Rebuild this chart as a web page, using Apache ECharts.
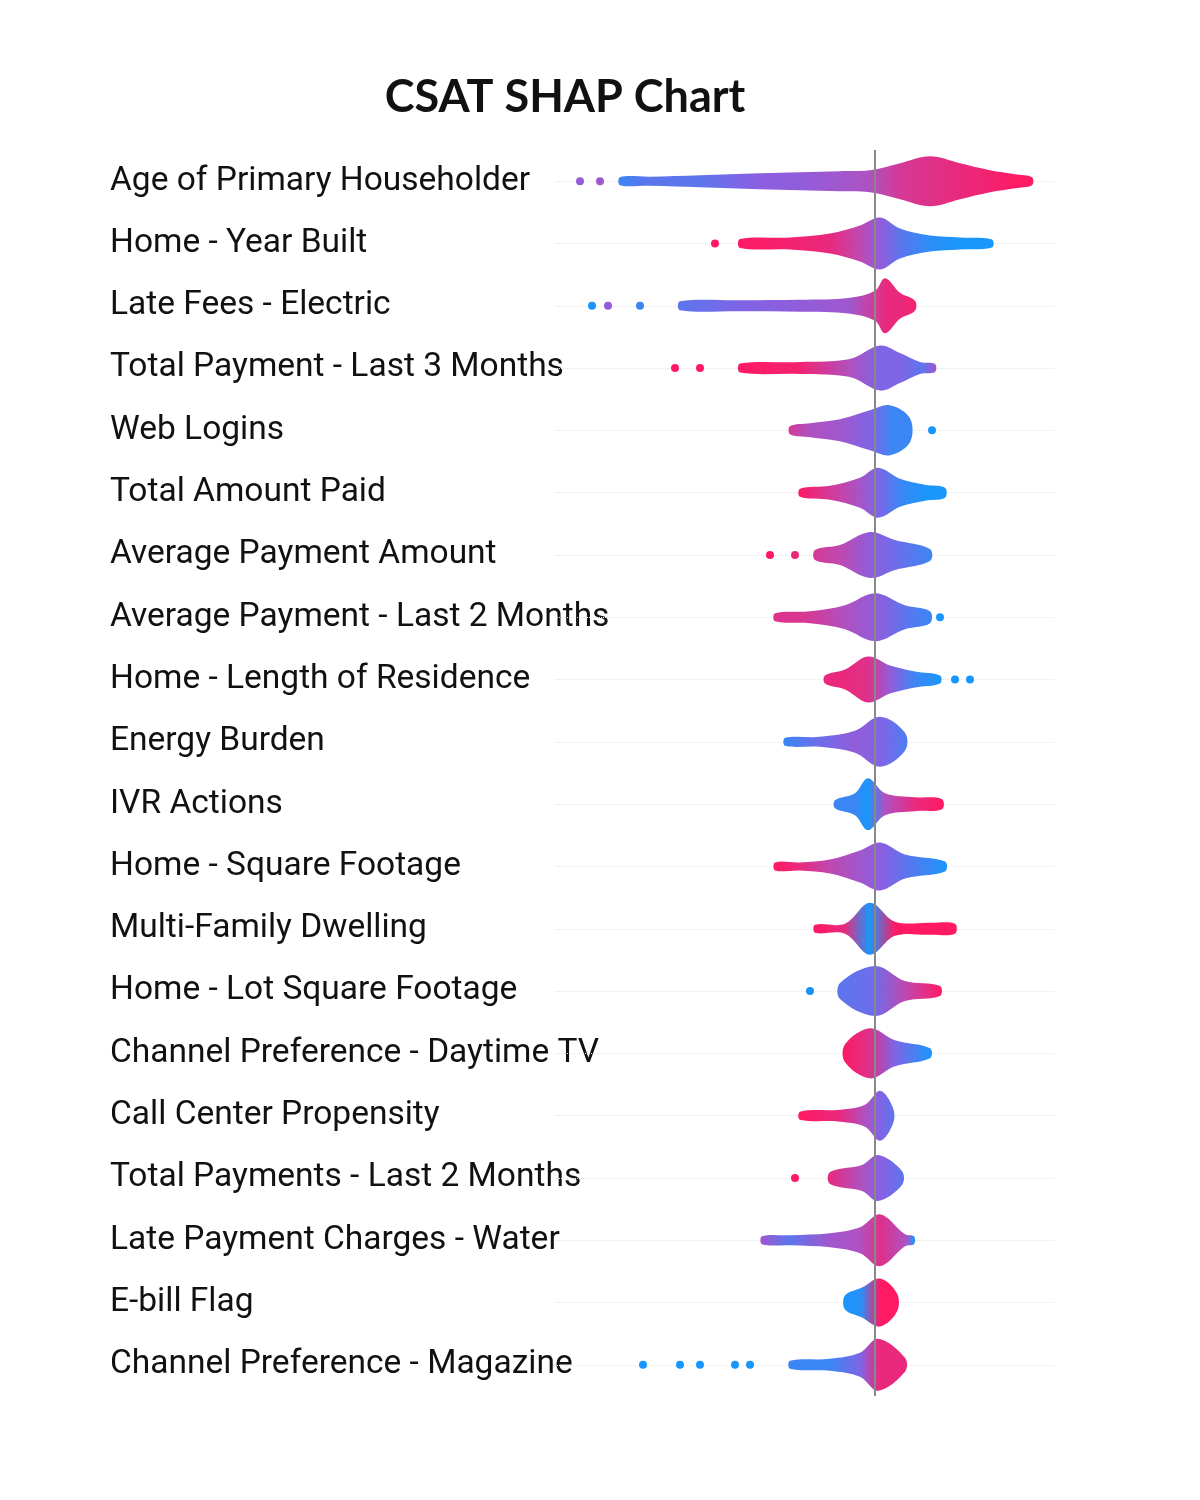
<!DOCTYPE html>
<html>
<head>
<meta charset="utf-8">
<script src="https://cdn.jsdelivr.net/npm/echarts@6/dist/echarts.min.js"></script>
<style>html,body{margin:0;background:#fff}#chart{width:1200px;height:1500px}</style>
</head>
<body>
<div id="chart"></div>
<script>
const features = [
  'Age of Primary Householder', 'Home - Year Built', 'Late Fees - Electric',
  'Total Payment - Last 3 Months', 'Web Logins', 'Total Amount Paid',
  'Average Payment Amount', 'Average Payment - Last 2 Months',
  'Home - Length of Residence', 'Energy Burden', 'IVR Actions',
  'Home - Square Footage', 'Multi-Family Dwelling', 'Home - Lot Square Footage',
  'Channel Preference - Daytime TV', 'Call Center Propensity',
  'Total Payments - Last 2 Months', 'Late Payment Charges - Water',
  'E-bill Flag', 'Channel Preference - Magazine'
]

// per feature: [shap value, spread (density), feature value 0=low..1=high]
const age = [[-2.95,7,.4],[-2.75,7,.5],[-2.55,8,.1],[-2.25,9,.2],[-1.75,12,.2],[-1.15,16,.35],[-0.75,18,.4],[-0.35,20,.5],[-0.05,22,.6],[0.25,36,.8],[0.55,50,.85],[0.85,36,.9],[1.15,22,.95],[1.4,14,1],[1.57,8,1]]
const yearBuilt = [[-1.6,7,1],[-1.35,9,1],[-0.85,12,.95],[-0.45,20,.9],[-0.15,36,.7],[0.05,52,.4],[0.25,30,.2],[0.55,16,.05],[0.85,12,0],[1.17,8,0]]
const lateFeesElec = [[-2.83,7,0],[-2.67,7,.4],[-2.35,7,.1],[-1.95,9,.2],[-1.35,11,.3],[-0.75,12,.4],[-0.25,16,.5],[0,30,.8],[0.1,55,.9],[0.25,26,.9],[0.4,10,.95]]
const totPay3m = [[-2.0,7,1],[-1.75,7,1],[-1.35,9,1],[-0.75,12,.95],[-0.25,18,.6],[0.05,45,.3],[0.25,30,.3],[0.45,12,.2],[0.6,8,.5]]
const webLogins = [[-0.85,8,.8],[-0.65,14,.6],[-0.35,22,.5],[-0.05,40,.3],[0.15,50,.1],[0.35,24,.1],[0.57,7,0]]
const totAmtPaid = [[-0.75,8,1],[-0.45,14,.8],[-0.15,30,.55],[0.03,50,.3],[0.25,28,.1],[0.5,16,0],[0.7,10,0]]
const avgPayAmt = [[-1.05,7,1],[-0.8,7,.9],[-0.6,10,.8],[-0.35,20,.7],[-0.05,46,.4],[0.2,30,.25],[0.55,12,.1]]
const avgPay2m = [[-1.0,8,.85],[-0.65,12,.8],[-0.3,24,.6],[0,48,.4],[0.3,24,.2],[0.55,12,.1],[0.65,7,0]]
const lengthRes = [[-0.5,8,.9],[-0.3,20,.9],[-0.07,46,.85],[0.15,28,.4],[0.4,16,.1],[0.65,8,0],[0.8,7,0],[0.95,7,0]]
const energyBurden = [[-0.9,8,.1],[-0.55,10,.25],[-0.2,22,.4],[0.05,50,.3],[0.3,18,.15]]
const ivr = [[-0.4,8,.1],[-0.2,22,.1],[-0.07,52,0],[0.1,22,.6],[0.4,14,.9],[0.67,10,1]]
const sqFt = [[-1.0,8,1],[-0.75,8,.9],[-0.45,14,.7],[-0.15,32,.5],[0.05,48,.35],[0.3,24,.2],[0.7,10,0]]
const multiFam = [[-0.6,8,1],[-0.3,10,.9],[-0.05,52,0],[0.2,14,1],[0.55,12,1],[0.8,10,1]]
const lotSqFt = [[-0.65,7,0],[-0.35,16,.2],[0,50,.25],[0.3,20,.7],[0.65,10,1]]
const daytimeTv = [[-0.3,18,1],[-0.05,50,.85],[0.2,26,.3],[0.55,10,0]]
const callCenter = [[-0.75,8,1],[-0.35,12,.9],[-0.1,22,.6],[0.05,50,.3],[0.18,16,.2]]
const totPay2m = [[-0.8,7,1],[-0.45,12,.9],[-0.13,26,.6],[0.03,46,.35],[0.27,14,.2]]
const lateWater = [[-1.13,8,.5],[-0.85,10,.2],[-0.45,14,.5],[-0.15,26,.6],[0.05,52,.85],[0.3,12,.6],[0.39,8,0]]
const ebill = [[-0.3,14,0],[-0.13,30,.05],[0.05,48,1],[0.22,18,1]]
const magazine = [[-2.32,7,0],[-1.95,7,0],[-1.75,7,0],[-1.4,7,0],[-1.25,7,0],[-0.85,8,.1],[-0.45,12,.1],[-0.15,24,.3],[0.03,52,.9],[0.3,14,.9]]

const rows = [age, yearBuilt, lateFeesElec, totPay3m, webLogins, totAmtPaid, avgPayAmt, avgPay2m,
  lengthRes, energyBurden, ivr, sqFt, multiFam, lotSqFt, daytimeTv, callCenter, totPay2m,
  lateWater, ebill, magazine]

const palette = ['#008bfb', '#7c4ee0', '#b03ab0', '#ff0052']
// isolated dots (thin tails) drawn as scatter, dense body drawn as shaped swarm
const dots = []
rows.forEach((r, i) => r.forEach(p => { if (p[1] < 8) dots.push([p[0], i, p[2]]) }))

function renderSwarm(params, api) {
  const i = api.value(0)
  const pts = rows[i].filter(p => p[1] >= 8)
  const top = [], bottom = []
  pts.forEach(p => {
    const c = api.coord([p[0], i])
    top.push([c[0], c[1] - p[1] / 2])
    bottom.unshift([c[0], c[1] + p[1] / 2])
  })
  const x0 = top[0][0], x1 = top[top.length - 1][0]
  const stops = pts.map(p => ({
    offset: (api.coord([p[0], i])[0] - x0) / (x1 - x0),
    color: echarts.color.lerp(p[2], palette)
  }))
  return {
    type: 'polygon',
    shape: { points: top.concat(bottom), smooth: 0.35 },
    style: { fill: new echarts.graphic.LinearGradient(0, 0, 1, 0, stops), opacity: 0.9 }
  }
}

const chart = echarts.init(document.getElementById('chart'))
chart.setOption({
  backgroundColor: '#fff',
  title: {
    text: 'CSAT SHAP Chart', left: 560, top: 70, textAlign: 'center',
    textStyle: { fontFamily: 'Lato', fontWeight: 'bold', fontSize: 45, color: '#111' }
  },
  grid: { left: 555, right: 145, top: 150, bottom: 104 },
  xAxis: {
    type: 'value', min: -3.2, max: 1.8,
    axisLine: { show: false }, axisTick: { show: false }, axisLabel: { show: false },
    splitLine: { show: false }
  },
  yAxis: [{
    type: 'category', data: features, inverse: true,
    axisLine: { show: false }, axisTick: { show: false },
    axisLabel: { align: 'left', margin: 445, fontSize: 33.5, color: '#111', fontFamily: 'Roboto' }
  }, {
    type: 'value', min: -0.5, max: 19.5, inverse: true, show: false
  }],
  visualMap: {
    show: false, dimension: 2, min: 0, max: 1, seriesIndex: 1,
    inRange: { color: palette }
  },
  series: [{
    type: 'custom', yAxisIndex: 1, renderItem: renderSwarm,
    data: rows.map((r, i) => [i]), z: 2,
    markLine: {
      silent: true, symbol: 'none', label: { show: false }, z: 1,
      data: features.map((f, i) => ({ yAxis: i, lineStyle: { color: '#e6e6e6', type: 'dotted', width: 1 } }))
    }
  }, {
    type: 'scatter', yAxisIndex: 1, data: dots, symbolSize: 8, z: 3,
    itemStyle: { opacity: 0.9 },
    markLine: {
      silent: true, symbol: 'none', label: { show: false },
      data: [{ xAxis: 0, lineStyle: { color: '#888', type: 'solid', width: 2 } }]
    }
  }]
})
</script>
</body>
</html>
